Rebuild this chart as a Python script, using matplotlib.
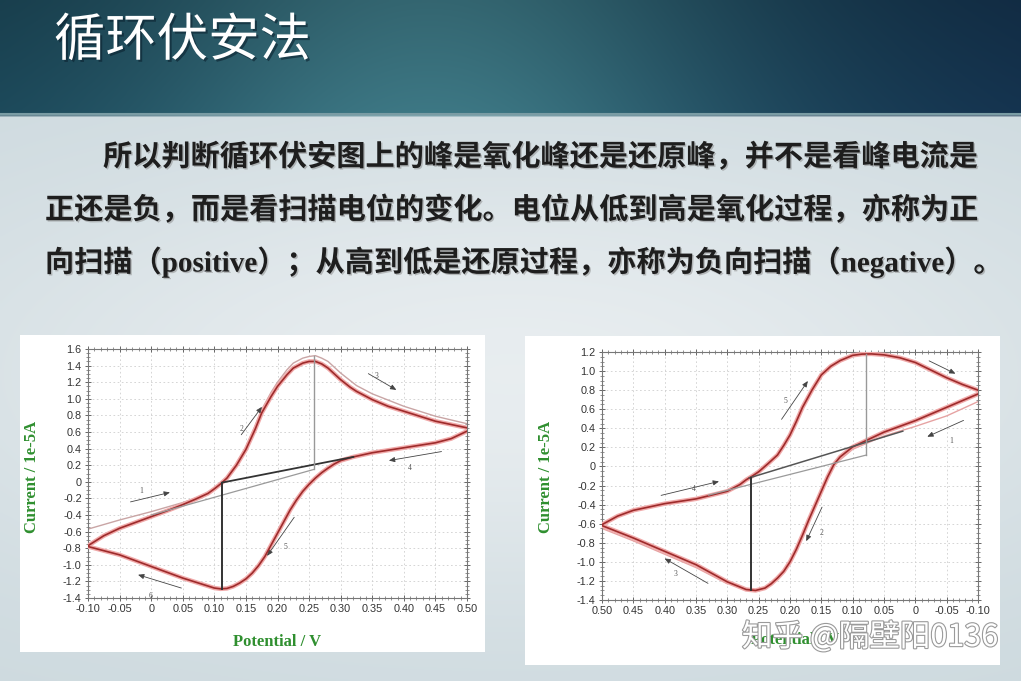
import numpy as np
import matplotlib
matplotlib.use("Agg")
import matplotlib.pyplot as plt
import matplotlib.patheffects as pe
from matplotlib.patches import Rectangle
from matplotlib.ticker import AutoMinorLocator

plt.rcParams['font.family'] = ['Noto Sans CJK SC', 'DejaVu Sans']

# ---------- text ----------
title = "循环伏安法"
body_lines = [
    "所以判断循环伏安图上的峰是氧化峰还是还原峰，并不是看峰电流是",
    "正还是负，而是看扫描电位的变化。电位从低到高是氧化过程，亦称为正",
    "向扫描（positive）；从高到低是还原过程，亦称为负向扫描（negative）。",
]
watermark = "知乎 @隔壁阳0136"

# ---------- left CV (potential increasing to the right) ----------
L_fwd_E = [-0.10, -0.075, -0.05, -0.025, 0.0, 0.025, 0.05, 0.07, 0.09, 0.10, 0.11, 0.12, 0.135,
           0.15, 0.165, 0.175, 0.19, 0.20, 0.215, 0.225, 0.24, 0.25, 0.26, 0.27, 0.28, 0.29,
           0.30, 0.315, 0.325, 0.35, 0.375, 0.40, 0.45, 0.50]
L_fwd_I = [-0.77, -0.65, -0.56, -0.49, -0.42, -0.35, -0.275, -0.21, -0.14, -0.085, -0.025, 0.045, 0.20,
           0.39, 0.64, 0.83, 1.03, 1.15, 1.29, 1.37, 1.43, 1.45, 1.45, 1.42, 1.37, 1.30,
           1.23, 1.14, 1.09, 0.99, 0.91, 0.85, 0.73, 0.65]
L_rev_E = [0.50, 0.475, 0.45, 0.40, 0.35, 0.32, 0.30, 0.29, 0.28, 0.27, 0.26, 0.25, 0.24, 0.23,
           0.22, 0.21, 0.20, 0.19, 0.18, 0.17, 0.16, 0.15, 0.14, 0.13, 0.12, 0.11, 0.10, 0.075,
           0.05, 0.025, 0.0, -0.05, -0.10]
L_rev_I = [0.61, 0.52, 0.47, 0.41, 0.35, 0.30, 0.255, 0.215, 0.165, 0.11, 0.045, -0.03, -0.115, -0.22,
           -0.34, -0.48, -0.62, -0.76, -0.90, -1.01, -1.10, -1.17, -1.22, -1.26, -1.285, -1.29, -1.28, -1.22,
           -1.16, -1.09, -1.02, -0.88, -0.78]
# first cycle (lighter trace)
L_c1_E = [-0.10, -0.05, 0.0, 0.05, 0.08, 0.10, 0.12, 0.135, 0.15, 0.165, 0.175, 0.19,
          0.20, 0.215, 0.225, 0.24, 0.25, 0.26, 0.27, 0.28, 0.30, 0.325, 0.35, 0.40, 0.45, 0.50]
L_c1_I = [-0.57, -0.46, -0.36, -0.25, -0.17, -0.08, 0.06, 0.22, 0.42, 0.68, 0.87, 1.08,
          1.20, 1.35, 1.43, 1.49, 1.51, 1.52, 1.49, 1.45, 1.31, 1.16, 1.06, 0.91, 0.79, 0.70]
# peak construction lines
L_base_black = ([0.112, 0.32], [-0.01, 0.30])
L_base_grey = ([0.0, 0.258], [-0.40, 0.15])
L_vert_black = ([0.112, 0.112], [-1.29, -0.01])
L_vert_grey = ([0.258, 0.258], [0.15, 1.52])
# arrows: (start E, start I, end E, end I, label, label E, label I)
L_arrows = [
    (-0.037, -0.25, 0.034, -0.12, "1", -0.015, -0.11),
    (0.140, 0.54, 0.178, 0.93, "2", 0.143, 0.64),
    (0.340, 1.32, 0.392, 1.09, "3", 0.357, 1.27),
    (0.464, 0.37, 0.372, 0.25, "4", 0.409, 0.17),
    (0.229, -0.40, 0.181, -0.92, "5", 0.213, -0.79),
    (0.052, -1.29, -0.025, -1.11, "6", -0.001, -1.38),
]
L_xticks = [-0.10, -0.05, 0.0, 0.05, 0.10, 0.15, 0.20, 0.25, 0.30, 0.35, 0.40, 0.45, 0.50]
L_xlabels = ["-0.10", "-0.05", "0", "0.05", "0.10", "0.15", "0.20", "0.25", "0.30",
             "0.35", "0.40", "0.45", "0.50"]
L_yticks = [-1.4, -1.2, -1.0, -0.8, -0.6, -0.4, -0.2, 0.0, 0.2, 0.4, 0.6, 0.8, 1.0, 1.2, 1.4, 1.6]
L_ylabels = ["-1.4", "-1.2", "-1.0", "-0.8", "-0.6", "-0.4", "-0.2", "0", "0.2", "0.4",
             "0.6", "0.8", "1.0", "1.2", "1.4", "1.6"]

# ---------- right CV (potential axis reversed) ----------
R_up_E = [0.50, 0.475, 0.45, 0.40, 0.35, 0.30, 0.28, 0.27, 0.26, 0.25, 0.235, 0.22, 0.21, 0.20,
          0.19, 0.18, 0.165, 0.15, 0.135, 0.12, 0.10, 0.085, 0.07, 0.05, 0.025, 0.0, -0.025,
          -0.05, -0.075, -0.10]
R_up_I = [-0.61, -0.52, -0.46, -0.39, -0.34, -0.26, -0.19, -0.14, -0.10, -0.056, 0.03, 0.12, 0.22, 0.33,
          0.47, 0.62, 0.80, 0.96, 1.05, 1.11, 1.165, 1.178, 1.18, 1.17, 1.14, 1.09, 1.01,
          0.93, 0.86, 0.80]
R_lo_E = [-0.10, -0.075, -0.05, -0.025, 0.0, 0.05, 0.10, 0.12, 0.13, 0.14, 0.15, 0.16, 0.17, 0.18,
          0.19, 0.20, 0.21, 0.22, 0.23, 0.24, 0.255, 0.27, 0.285, 0.30, 0.35, 0.40, 0.45, 0.50]
R_lo_I = [0.76, 0.69, 0.62, 0.55, 0.48, 0.36, 0.205, 0.10, 0.02, -0.11, -0.26, -0.41, -0.56, -0.72,
          -0.87, -1.00, -1.10, -1.17, -1.23, -1.275, -1.30, -1.29, -1.25, -1.21, -1.03, -0.89, -0.75, -0.62]
R_c1_E = [-0.10, -0.05, 0.0, 0.05, 0.10, 0.12]
R_c1_I = [0.68, 0.53, 0.42, 0.32, 0.18, 0.07]
R_c1b_E = [0.30, 0.35, 0.40, 0.45, 0.50]
R_c1b_I = [-1.23, -1.06, -0.92, -0.78, -0.65]
R_base_black = ([0.265, 0.02], [-0.12, 0.37])
R_base_grey = ([0.33, 0.078], [-0.30, 0.12])
R_vert_black = ([0.262, 0.262], [-1.30, -0.12])
R_vert_grey = ([0.078, 0.078], [0.12, 1.18])
R_arrows = [
    (-0.081, 0.495, -0.015, 0.30, "1", -0.058, 0.265),
    (0.147, -0.40, 0.176, -0.81, "2", 0.149, -0.70),
    (0.327, -1.24, 0.404, -0.95, "3", 0.382, -1.13),
    (0.410, -0.31, 0.309, -0.15, "4", 0.354, -0.24),
    (0.216, 0.47, 0.169, 0.92, "5", 0.207, 0.69),
    (-0.018, 1.12, -0.068, 0.96, "", 0.0, 0.0),
]
R_xticks = [0.50, 0.45, 0.40, 0.35, 0.30, 0.25, 0.20, 0.15, 0.10, 0.05, 0.0, -0.05, -0.10]
R_xlabels = ["0.50", "0.45", "0.40", "0.35", "0.30", "0.25", "0.20", "0.15", "0.10",
             "0.05", "0", "-0.05", "-0.10"]
R_yticks = [-1.4, -1.2, -1.0, -0.8, -0.6, -0.4, -0.2, 0.0, 0.2, 0.4, 0.6, 0.8, 1.0, 1.2]
R_ylabels = ["-1.4", "-1.2", "-1.0", "-0.8", "-0.6", "-0.4", "-0.2", "0", "0.2", "0.4",
             "0.6", "0.8", "1.0", "1.2"]

W, H = 1021, 681
fig = plt.figure(figsize=(W / 100, H / 100), dpi=100)

# ---------- slide background ----------
bg = fig.add_axes([0, 0, 1, 1])
bg.set_xlim(0, W)
bg.set_ylim(H, 0)
bg.axis("off")

xx, yy = np.meshgrid(np.linspace(0, 1, 300), np.linspace(0, 1, 200))
# header: teal, brighter towards the middle, dark navy at the right
hdr_edge = 113 / H
c_left = np.array([0.10, 0.27, 0.34])
c_mid = np.array([0.24, 0.47, 0.52])
c_right = np.array([0.08, 0.20, 0.31])
wmid = np.exp(-((xx - 0.42) / 0.28) ** 2)
wright = np.clip((xx - 0.45) / 0.55, 0, 1)
hdr = (c_left * (1 - wright[..., None]) + c_right * wright[..., None]) * (1 - wmid[..., None]) \
    + c_mid * wmid[..., None]
hdr = hdr * (0.85 + 0.15 * (yy[..., None] / hdr_edge))
# body: pale blue-grey, lighter in the middle
b_top = np.array([0.80, 0.85, 0.87])
b_mid = np.array([0.91, 0.93, 0.94])
wy = np.exp(-((yy - 0.55) / 0.35) ** 2) * np.exp(-((xx - 0.5) / 0.6) ** 2)
body = b_top * (1 - wy[..., None]) + b_mid * wy[..., None]
img = np.where((yy < hdr_edge)[..., None], hdr, body)
bg.imshow(img, extent=(0, W, H, 0), aspect="auto", interpolation="bilinear", zorder=0)
bg.plot([0, W], [114, 114], color="#7a9ca4", lw=1.5, zorder=1)

bg.text(54, 41, title, color="white", fontsize=37, va="center", ha="left",
        path_effects=[pe.withSimplePatchShadow(offset=(1.5, -1.5), shadow_rgbFace="#0b2230", alpha=0.6)])

body_font = ['Liberation Serif', 'Noto Sans CJK SC']
line_pos = [(103, 157), (45, 210), (45, 262)]
for (lx, ly), line in zip(line_pos, body_lines):
    bg.text(lx, ly, line, color="#1e1e1e", fontsize=21, fontweight="bold",
            family=body_font, va="center", ha="left",
            path_effects=[pe.withSimplePatchShadow(offset=(1, -1), shadow_rgbFace="#888888", alpha=0.5)])

# white picture panels
bg.add_patch(Rectangle((20, 335), 465, 317, facecolor="white", edgecolor="none", zorder=2))
bg.add_patch(Rectangle((525, 336), 475, 329, facecolor="white", edgecolor="none", zorder=2))

green = "#2f8f2f"
bg.text(32, 477, "Current / 1e-5A", rotation=90, color=green, fontsize=12, fontweight="bold",
        family="Liberation Serif", ha="center", va="center", zorder=3)
bg.text(277, 642, "Potential / V", color=green, fontsize=12, fontweight="bold",
        family="Liberation Serif", ha="center", va="center", zorder=3)
bg.text(546, 477, "Current / 1e-5A", rotation=90, color=green, fontsize=12, fontweight="bold",
        family="Liberation Serif", ha="center", va="center", zorder=3)
bg.text(795, 640, "Potential / V", color=green, fontsize=12, fontweight="bold",
        family="Liberation Serif", ha="center", va="center", zorder=3)


def style_axes(ax, xticks, xlabels, yticks, ylabels, xlim, ylim):
    ax.set_xlim(*xlim)
    ax.set_ylim(*ylim)
    ax.set_xticks(xticks)
    ax.set_xticklabels(xlabels)
    ax.set_yticks(yticks)
    ax.set_yticklabels(ylabels)
    ax.xaxis.set_minor_locator(AutoMinorLocator(5))
    ax.yaxis.set_minor_locator(AutoMinorLocator(4))
    ax.tick_params(which="both", direction="inout", top=True, right=True, colors="#666666",
                   labelcolor="#333333", labelsize=7.8, pad=2)
    ax.tick_params(which="major", length=5, width=0.7)
    ax.tick_params(which="minor", length=3, width=0.5)
    for lab in ax.get_xticklabels() + ax.get_yticklabels():
        lab.set_family(["Liberation Sans", "DejaVu Sans"])
    for s in ax.spines.values():
        s.set_color("#777777")
        s.set_linewidth(0.8)
    ax.grid(True, which="major", color="#cfcfcf", lw=0.6, ls=(0, (2, 3)))
    ax.set_facecolor("white")


def draw_arrows(ax, arrows):
    for x0, y0, x1, y1, lab, lx, ly in arrows:
        ax.annotate("", xy=(x1, y1), xytext=(x0, y0),
                    arrowprops=dict(arrowstyle="-|>,head_length=0.35,head_width=0.15",
                                    color="#444444", lw=0.6))
        if lab:
            ax.text(lx, ly, lab, fontsize=5.5, color="#555555", family="Liberation Serif",
                    ha="center", va="center")


# ---------- left chart ----------
axL = fig.add_axes([88 / W, (H - 598) / H, 379 / W, 249 / H])
style_axes(axL, L_xticks, L_xlabels, L_yticks, L_ylabels, (-0.10, 0.50), (-1.4, 1.6))
axL.plot(L_c1_E, L_c1_I, color="#c9a5a5", lw=1.0, zorder=2)
axL.plot(L_fwd_E, L_fwd_I, color="#f0a9a9", lw=3.2, zorder=3, solid_capstyle="round")
axL.plot(L_rev_E, L_rev_I, color="#f0a9a9", lw=3.2, zorder=3, solid_capstyle="round")
axL.plot(L_fwd_E, L_fwd_I, color="#9e2b2b", lw=1.2, zorder=4)
axL.plot(L_rev_E, L_rev_I, color="#9e2b2b", lw=1.2, zorder=4)
axL.plot(*L_base_grey, color="#9a9a9a", lw=0.9, zorder=5)
axL.plot(*L_base_black, color="#333333", lw=1.3, zorder=5)
axL.plot(*L_vert_black, color="#333333", lw=1.4, zorder=5)
axL.plot(*L_vert_grey, color="#999999", lw=1.0, zorder=5)
draw_arrows(axL, L_arrows)

# ---------- right chart ----------
axR = fig.add_axes([602 / W, (H - 600) / H, 376 / W, 248 / H])
style_axes(axR, R_xticks, R_xlabels, R_yticks, R_ylabels, (0.50, -0.10), (-1.4, 1.2))
axR.plot(R_c1_E, R_c1_I, color="#e6a3a3", lw=1.0, zorder=2)
axR.plot(R_c1b_E, R_c1b_I, color="#e6a3a3", lw=1.0, zorder=2)
axR.plot(R_up_E, R_up_I, color="#f0a9a9", lw=3.2, zorder=3, solid_capstyle="round")
axR.plot(R_lo_E, R_lo_I, color="#f0a9a9", lw=3.2, zorder=3, solid_capstyle="round")
axR.plot(R_up_E, R_up_I, color="#9e2b2b", lw=1.2, zorder=4)
axR.plot(R_lo_E, R_lo_I, color="#9e2b2b", lw=1.2, zorder=4)
axR.plot(*R_base_grey, color="#9a9a9a", lw=0.9, zorder=5)
axR.plot(*R_base_black, color="#555555", lw=1.1, zorder=5)
axR.plot(*R_vert_black, color="#333333", lw=1.4, zorder=5)
axR.plot(*R_vert_grey, color="#999999", lw=1.0, zorder=5)
draw_arrows(axR, R_arrows)

# watermark on top of everything
wm = fig.add_axes([0, 0, 1, 1], facecolor="none")
wm.set_xlim(0, W)
wm.set_ylim(H, 0)
wm.axis("off")
wm.text(870, 637, watermark, fontsize=22, color="white", ha="center", va="center",
        path_effects=[pe.withStroke(linewidth=1.6, foreground="#9a9a9a")])

fig.savefig("out.png", dpi=100)
